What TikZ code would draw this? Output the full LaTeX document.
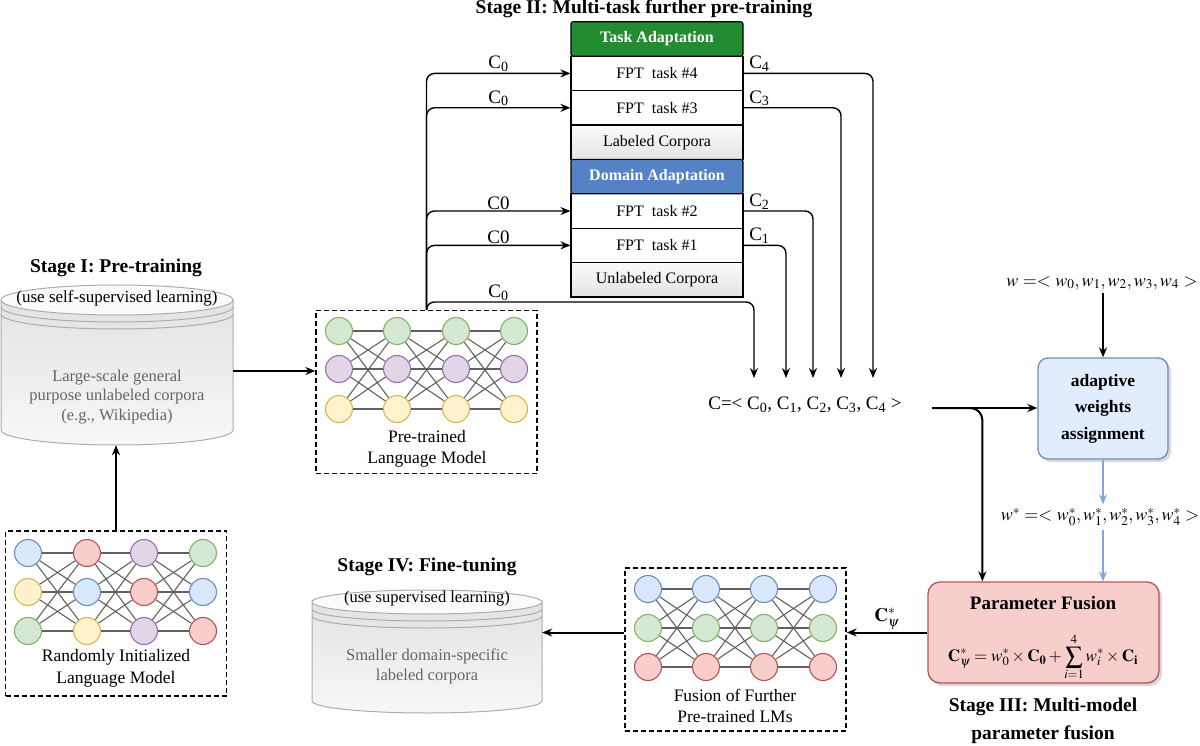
\documentclass[tikz,border=0pt]{standalone}
\usepackage{mathptmx}
\usepackage{fontspec}
\setmainfont{Liberation Serif}
\usetikzlibrary{arrows.meta,shadows}

\definecolor{fillnb}{HTML}{DAE8FC} \definecolor{linenb}{HTML}{6C8EBF}
\definecolor{fillng}{HTML}{D5E8D4} \definecolor{lineng}{HTML}{82B366}
\definecolor{fillnr}{HTML}{F8CECC} \definecolor{linenr}{HTML}{B85450}
\definecolor{fillnp}{HTML}{E1D5E7} \definecolor{linenp}{HTML}{9673A6}
\definecolor{fillny}{HTML}{FFF2CC} \definecolor{lineny}{HTML}{D6B656}
\definecolor{taskgreen}{HTML}{238C31}
\definecolor{domblue}{HTML}{5582C4}
\definecolor{wblue}{HTML}{7EA6E0}
\definecolor{dbtext}{HTML}{666666}

\newcommand{\ttlfont}{\fontsize{19.5}{28}\selectfont\bfseries}
\newcommand{\boxfont}{\fontsize{16}{19}\selectfont}
\newcommand{\netfont}{\fontsize{17.5}{21.5}\selectfont}
\newcommand{\dbfont}{\fontsize{16.5}{19.5}\selectfont}
\newcommand{\clabfont}{\fontsize{19}{22}\selectfont}
\newcommand{\wfont}{\fontsize{18}{21}\selectfont}

% datastore: name, centre x, top, bottom, half width, y radius
\newcommand{\datastore}[6]{%
  \path[top color=gray!22, bottom color=gray!6]
    (#2-#5,#3+#6) -- (#2-#5,#4-#6)
    .. controls (#2-#5,#4-0.448*#6) and (#2-0.552*#5,#4) .. (#2,#4)
    .. controls (#2+0.552*#5,#4) and (#2+#5,#4-0.448*#6) .. (#2+#5,#4-#6)
    -- (#2+#5,#3+#6) -- cycle;
  \draw[dbline] (#2-#5,#3+#6) -- (#2-#5,#4-#6)
    .. controls (#2-#5,#4-0.448*#6) and (#2-0.552*#5,#4) .. (#2,#4)
    .. controls (#2+0.552*#5,#4) and (#2+#5,#4-0.448*#6) .. (#2+#5,#4-#6)
    -- (#2+#5,#3+#6);
  \draw[dbline, fill=gray!3] (#2,#3+#6) ellipse [x radius=#5, y radius=#6];
  \foreach \d in {7,14}
    \draw[dbline] (#2-#5,#3+#6+\d)
      .. controls (#2-#5,#3+1.552*#6+\d) and (#2-0.552*#5,#3+2*#6+\d) .. (#2,#3+2*#6+\d)
      .. controls (#2+0.552*#5,#3+2*#6+\d) and (#2+#5,#3+1.552*#6+\d) .. (#2+#5,#3+#6+\d);
  \node[inner sep=0pt, minimum width=2*#5pt, minimum height=#4pt-#3pt] (#1) at (#2,{(#3+#4)/2}) {};
}

\tikzset{
  neuron/.style={circle, draw, line width=1.1pt, minimum size=27pt, inner sep=0pt},
  netline/.style={draw=black!62, line width=1.1pt},
  nnbox/.style={draw, line width=1.3pt, dash pattern=on 5pt off 3pt, minimum width=221pt, minimum height=163pt, inner sep=0pt},
  dbline/.style={draw=gray!65, line width=1pt},
  stackrow/.style={draw, line width=1.1pt, minimum width=172pt, minimum height=34.4pt, inner sep=0pt, font=\boxfont},
  headbox/.style={stackrow, text=white, font=\boxfont\bfseries, rounded corners=2pt},
  corpus/.style={top color=gray!3, bottom color=gray!22},
  conn/.style={line width=1.4pt, rounded corners=8pt},
  mainarrow/.style={->, line width=2pt},
  wline/.style={->, draw=wblue, line width=1.3pt},
  clabel/.style={font=\clabfont, inner sep=1pt}
}

\begin{document}
\begin{tikzpicture}[x=1pt, y=-1pt, >={Stealth[length=10pt,width=8pt]}]
    \useasboundingbox (0,0) rectangle (1200,746);

    % Stage I
    \node[font=\ttlfont] (stI) at (116,268) {Stage I: Pre-training};
    \datastore{cyl1}{117}{285}{445}{116}{15}
    \node[font=\fontsize{17}{20}\selectfont] (cyl1top) at (117,298) {(use self-supervised learning)};
    \node[font=\dbfont, text=dbtext, align=center] (cyl1txt) at (117,397)
        {Large-scale general\\purpose unlabeled corpora\\(e.g., Wikipedia)};

    % randomly initialized LM
    \node[nnbox, minimum height=165pt] (rand) at (116,613.5) {};
    \foreach \c/\x/\sa/\sb/\sc in {1/28/nb/ny/ng, 2/87/nr/nb/ny, 3/144/np/nr/np, 4/203/ng/nb/nr}
        \foreach \r/\y/\s in {1/553/\sa, 2/592/\sb, 3/631/\sc}
            \node[neuron, fill=fill\s, draw=line\s] (r\c\r) at (\x,\y) {};
    \foreach \c in {1,2,3} {
        \pgfmathtruncatemacro\n{\c+1}
        \foreach \r in {1,2,3}
            \foreach \q in {1,2,3}
                \draw[netline] (r\c\r) -- (r\n\q);
    }
    \node[font=\netfont, align=center] (randtxt) at (116,668.5) {Randomly Initialized\\Language Model};

    % pre-trained LM
    \node[nnbox] (plm) at (426.5,392) {};
    \foreach \c/\x in {1/339, 2/397, 3/456, 4/514}
        \foreach \r/\y/\s in {1/331/ng, 2/369/np, 3/409/ny}
            \node[neuron, fill=fill\s, draw=line\s] (p\c\r) at (\x,\y) {};
    \foreach \c in {1,2,3} {
        \pgfmathtruncatemacro\n{\c+1}
        \foreach \r in {1,2,3}
            \foreach \q in {1,2,3}
                \draw[netline] (p\c\r) -- (p\n\q);
    }
    \node[font=\netfont, align=center] (plmtxt) at (427,449) {Pre-trained\\Language Model};

    \draw[mainarrow] (rand.north) -- (rand.north |- cyl1.south);
    \coordinate (c1out) at ([yshift=-6pt]cyl1.east);
    \draw[mainarrow] (c1out) -- (c1out -| plm.west);

    % Stage II
    \node[font=\ttlfont] (stII) at (644,9) {Stage II: Multi-task further pre-training};
    \node[headbox, fill=taskgreen] (tah) at (657,39) {Task Adaptation};
    \node[stackrow] (t4) at (657,73.4) {FPT\ \ task \#4};
    \node[stackrow] (t3) at (657,107.8) {FPT\ \ task \#3};
    \node[stackrow, corpus] (lab) at (657,142.2) {Labeled Corpora};
    \node[headbox, fill=domblue] (dah) at (657,176.6) {Domain Adaptation};
    \node[stackrow] (t2) at (657,211) {FPT\ \ task \#2};
    \node[stackrow] (t1) at (657,245.4) {FPT\ \ task \#1};
    \node[stackrow, corpus] (unl) at (657,279.8) {Unlabeled Corpora};

    \draw[conn, ->] (plm.north) |- (t4.west) node[pos=0.75, above, clabel] (l4) {C\textsubscript{0}};
    \draw[conn, ->] (plm.north) |- (t3.west) node[pos=0.75, above, clabel] (l3) {C\textsubscript{0}};
    \draw[conn, ->] (plm.north) |- (t2.west) node[pos=0.75, above, clabel] (l2) {C0};
    \draw[conn, ->] (plm.north) |- (t1.west) node[pos=0.75, above, clabel] (l1) {C0};

    \coordinate (in0) at (754,378);
    \coordinate (in1) at (786,378);
    \coordinate (in2) at (813,378);
    \coordinate (in3) at (841,378);
    \coordinate (in4) at (873,378);
    \coordinate (c0turn) at (754,302);
    \draw[conn, ->] (plm.north) |- (c0turn) node[pos=0.61, above, clabel] (l0) {C\textsubscript{0}} -- (in0);
    \draw[conn, ->] (t1.east) -| (in1) node[pos=0, above right, xshift=4pt, clabel] (r1) {C\textsubscript{1}};
    \draw[conn, ->] (t2.east) -| (in2) node[pos=0, above right, xshift=4pt, clabel] (r2) {C\textsubscript{2}};
    \draw[conn, ->] (t3.east) -| (in3) node[pos=0, above right, xshift=4pt, clabel] (r3) {C\textsubscript{3}};
    \draw[conn, ->] (t4.east) -| (in4) node[pos=0, above right, xshift=4pt, clabel] (r4) {C\textsubscript{4}};

    \node[font=\clabfont] (cvec) at (805,405)
        {C=< C\textsubscript{0}, C\textsubscript{1}, C\textsubscript{2}, C\textsubscript{3}, C\textsubscript{4} >};

    % Stage III
    \node[draw=linenb, fill=fillnb!80, line width=1.3pt, rounded corners=10pt,
          minimum width=130pt, minimum height=101pt, align=center,
          font=\fontsize{17.5}{26.5}\selectfont\bfseries,
          drop shadow={opacity=0.3, shadow xshift=3pt, shadow yshift=-3pt}]
        (adapt) at (1103,408.5) {adaptive\\weights\\assignment};
    \node[draw=linenr, fill=fillnr, line width=1.3pt, rounded corners=12pt,
          minimum width=231pt, minimum height=101pt,
          drop shadow={opacity=0.3, shadow xshift=3pt, shadow yshift=-3pt}]
        (fuse) at (1043.5,632.5) {};
    \node[font=\fontsize{19}{22}\selectfont\bfseries, inner sep=0pt] (pfname) at (1043,603) {Parameter Fusion};
    \node[font=\fontsize{17}{20}\selectfont, inner sep=0pt] (pfeq) at (1043,657)
        {$\displaystyle \mathbf{C}^{*}_{\psi} = w^{*}_{0}\times\mathbf{C_0} + \sum_{i=1}^{4} w^{*}_{i}\times\mathbf{C_i}$};
    \node[font=\ttlfont, align=center] (stIII) at (1043,721) {Stage III: Multi-model\\parameter fusion};

    \node[font=\wfont] (wvec) at (1102,283) {$w\ {=}{<}\ w_0, w_1, w_2, w_3, w_4\ {>}$};
    \node[font=\wfont] (wstar) at (1100,517)
        {$w^{*}\ {=}{<}\ w^{*}_0, w^{*}_1, w^{*}_2, w^{*}_3, w^{*}_4\ {>}$};

    \coordinate (cvout) at ([xshift=27pt, yshift=-3pt]cvec.east);
    \coordinate (fin) at ([xshift=55pt]fuse.north west);
    \draw[mainarrow] (cvout) -- (cvout -| adapt.west);
    \draw[mainarrow, rounded corners=12pt] (cvout) -| (fin);
    \draw[->, line width=1.3pt] (wvec.south -| adapt.north) -- (adapt.north);
    \draw[wline] (adapt.south) -- (adapt.south |- wstar.north);
    \draw[wline] (adapt.south |- wstar.south) -- (adapt.south |- fuse.north);

    % fused LM
    \node[nnbox] (fusnn) at (735.5,649.5) {};
    \foreach \c/\x in {1/648, 2/706, 3/764, 4/823}
        \foreach \r/\y/\s in {1/589/nb, 2/628/ng, 3/667/nr}
            \node[neuron, fill=fill\s, draw=line\s] (f\c\r) at (\x,\y) {};
    \foreach \c in {1,2,3} {
        \pgfmathtruncatemacro\n{\c+1}
        \foreach \r in {1,2,3}
            \foreach \q in {1,2,3}
                \draw[netline] (f\c\r) -- (f\n\q);
    }
    \node[font=\netfont, align=center] (fustxt) at (735,706) {Fusion of Further\\Pre-trained LMs};

    \draw[mainarrow] (fuse.west) -- (fuse.west -| fusnn.east)
        node[midway, above=2pt, inner sep=0pt, font=\clabfont] (cpsi) {$\mathbf{C}^{*}_{\psi}$};

    % Stage IV
    \node[font=\ttlfont] (stIV) at (427,567) {Stage IV: Fine-tuning};
    \datastore{cyl2}{427}{590}{713}{115}{12}
    \node[font=\dbfont] (cyl2top) at (427,599) {(use supervised learning)};
    \node[font=\dbfont, text=dbtext, align=center] (cyl2txt) at (427,666.5)
        {Smaller domain-specific\\labeled corpora};
    \draw[mainarrow] (fuse.west -| fusnn.west) -- (fuse.west -| cyl2.east);
\end{tikzpicture}
\end{document}
